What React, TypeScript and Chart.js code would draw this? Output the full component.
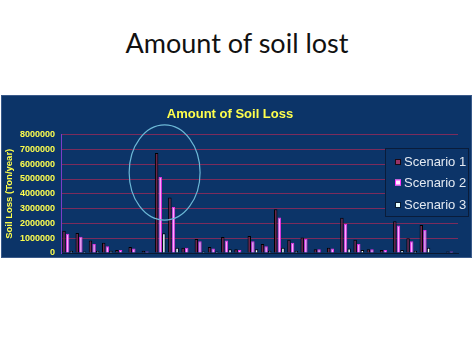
import React, { useEffect, useRef } from "react";
import { Chart, registerables } from "chart.js";

Chart.register(...registerables);

// Catchment units (unlabelled on the axis)
const categories = [
  "1", "2", "3", "4", "5", "6", "7", "8", "9", "10",
  "11", "12", "13", "14", "15", "16", "17", "18", "19", "20",
  "21", "22", "23", "24", "25", "26", "27", "28", "29", "30",
];

// Soil loss in Ton/year per scenario
const scenario1 = [
  1500000, 1350000, 850000, 700000, 200000, 400000, 150000, 6750000, 3750000, 350000,
  950000, 400000, 1080000, 250000, 1150000, 600000, 2950000, 900000, 1050000, 250000,
  350000, 2380000, 900000, 250000, 200000, 2150000, 1000000, 1900000, 0, 100000,
];
const scenario2 = [
  1300000, 1100000, 600000, 450000, 200000, 300000, 100000, 5130000, 3100000, 350000,
  800000, 300000, 850000, 200000, 800000, 450000, 2400000, 700000, 950000, 250000,
  300000, 1960000, 600000, 250000, 200000, 1850000, 800000, 1550000, 0, 100000,
];
const scenario3 = [
  150000, 100000, 150000, 150000, 30000, 50000, 30000, 1340000, 350000, 50000,
  100000, 100000, 250000, 50000, 250000, 150000, 350000, 150000, 50000, 50000,
  50000, 300000, 200000, 50000, 50000, 200000, 150000, 350000, 0, 20000,
];

const seriesNames = ["Scenario 1", "Scenario 2", "Scenario 3"];
const yTicks = [0, 1000000, 2000000, 3000000, 4000000, 5000000, 6000000, 7000000, 8000000];

const NAVY = "#0c3468";
const YELLOW = "#ffff4d";

// Highlight ring around the peak units, given in category / value units
const ring = { centerIndex: 7.33, centerValue: 5440000, radiusCats: 2.68, radiusValue: 3220000 };

const ringPlugin = {
  id: "ring",
  afterDatasetsDraw(chart: any) {
    const { ctx, scales } = chart;
    const x = scales.x;
    const y = scales.y;
    const step = x.getPixelForValue(1) - x.getPixelForValue(0);
    const cx = x.getPixelForValue(0) + ring.centerIndex * step;
    const cy = y.getPixelForValue(ring.centerValue);
    const rx = ring.radiusCats * step;
    const ry = y.getPixelForValue(0) - y.getPixelForValue(ring.radiusValue);
    ctx.save();
    ctx.beginPath();
    ctx.ellipse(cx, cy, rx, ry, 0, 0, Math.PI * 2);
    ctx.strokeStyle = "#6cb8d6";
    ctx.lineWidth = 1.2;
    ctx.stroke();
    ctx.restore();
  },
};

// Boxed legend sitting over the right side of the plot
const boxLegendPlugin = {
  id: "boxLegend",
  afterDraw(chart: any) {
    const { ctx } = chart;
    const bx = 383, by = 52, bw = 84, bh = 69;
    ctx.save();
    ctx.fillStyle = NAVY;
    ctx.fillRect(bx, by, bw, bh);
    ctx.strokeStyle = "#0a1c3a";
    ctx.lineWidth = 1;
    ctx.strokeRect(bx + 0.5, by + 0.5, bw - 1, bh - 1);
    const rows = [14, 34.5, 57];
    ctx.font = "13px Arial, 'Liberation Sans', sans-serif";
    ctx.textBaseline = "middle";
    chart.data.datasets.forEach((ds: any, i: number) => {
      const ry = by + rows[i];
      ctx.fillStyle = ds.legendFill;
      ctx.fillRect(bx + 10, ry - 3, 6, 6);
      ctx.strokeStyle = ds.legendEdge;
      ctx.lineWidth = 1;
      ctx.strokeRect(bx + 10.5, ry - 2.5, 5, 5);
      ctx.fillStyle = "#e4eaf2";
      ctx.fillText(ds.label, bx + 19, ry + 0.5);
    });
    ctx.restore();
  },
};

export default function App() {
  const canvasRef = useRef<HTMLCanvasElement | null>(null);

  useEffect(() => {
    if (!canvasRef.current) return;
    const chart = new Chart(canvasRef.current, {
      type: "bar",
      data: {
        labels: categories,
        datasets: [
          {
            label: seriesNames[0],
            data: scenario1,
            backgroundColor: "#6e2448",
            borderColor: "#000000",
            borderWidth: 1,
            legendFill: "#993366",
            legendEdge: "#1a0a14",
          } as any,
          {
            label: seriesNames[1],
            data: scenario2,
            backgroundColor: "#ffa8ff",
            borderColor: "#e22ee2",
            borderWidth: 1,
            legendFill: "#fff0ff",
            legendEdge: "#ff33ff",
          } as any,
          {
            label: seriesNames[2],
            data: scenario3,
            backgroundColor: "#f4ffff",
            borderColor: "#000000",
            borderWidth: 1,
            legendFill: "#e8ffff",
            legendEdge: "#0a1a30",
          } as any,
        ],
      },
      options: {
        responsive: false,
        animation: false,
        events: [],
        layout: { padding: { left: 0, right: 13, top: 4, bottom: 4 } },
        datasets: {
          bar: { categoryPercentage: 0.82, barPercentage: 0.95 },
        },
        plugins: {
          legend: { display: false },
          tooltip: { enabled: false },
          title: {
            display: true,
            text: "Amount of Soil Loss",
            color: YELLOW,
            font: { family: "Arial, 'Liberation Sans', sans-serif", size: 13, weight: "bold" },
            padding: { top: 6.5, bottom: 12.5 },
          },
        },
        scales: {
          x: {
            afterFit: (scale: any) => {
              scale.height = 0;
            },
            grid: { display: false, drawTicks: false },
            ticks: { display: false },
            border: { display: true, color: "#0a1830", width: 1 },
          },
          y: {
            min: 0,
            max: 8000000,
            afterFit: (scale: any) => {
              scale.width = 59;
              scale.paddingTop = 0;
              scale.paddingBottom = 0;
            },
            afterBuildTicks: (scale: any) => {
              scale.ticks = yTicks.map((v) => ({ value: v }));
            },
            ticks: {
              color: YELLOW,
              padding: 6,
              font: { family: "Arial, 'Liberation Sans', sans-serif", size: 9, weight: "bold" },
              callback: (v: any) => String(v),
            },
            grid: { color: "#7c2c5c", lineWidth: 1, drawTicks: false },
            border: { display: true, color: "#7a3cc8", width: 1 },
            title: {
              display: true,
              text: "Soil Loss (Ton/year)",
              color: YELLOW,
              font: { family: "Arial, 'Liberation Sans', sans-serif", size: 9.5, weight: "bold" },
              padding: { top: 2, bottom: 0 },
            },
          },
        },
      },
      plugins: [ringPlugin, boxLegendPlugin],
    });
    return () => chart.destroy();
  }, []);

  return (
    <div
      style={{
        position: "absolute",
        left: 0,
        top: 0,
        width: 474,
        height: 355,
        background: "#ffffff",
        overflow: "hidden",
      }}
    >
      <div
        style={{
          position: "absolute",
          left: 0,
          top: 27,
          width: 474,
          textAlign: "center",
          fontFamily: "Lato, 'Open Sans', sans-serif",
          fontSize: 27,
          lineHeight: "32px",
          color: "#111111",
        }}
      >
        Amount of soil lost
      </div>
      <div
        style={{
          position: "absolute",
          left: 2,
          top: 96,
          width: 469,
          height: 161,
          background: NAVY,
          boxShadow: "0 0 0 1px #3a5a8a",
        }}
      >
        <canvas ref={canvasRef} width={469} height={161} style={{ display: "block" }} />
      </div>
    </div>
  );
}
